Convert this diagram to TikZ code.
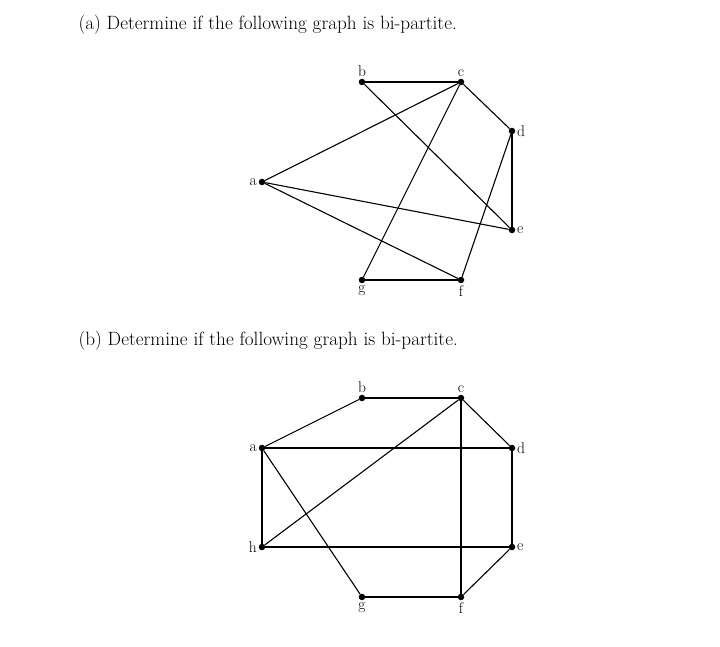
\documentclass[tikz,border=0pt]{standalone}
\begin{document}
\begin{tikzpicture}[x=1pt,y=-1pt,
  v/.style={circle,fill=black,inner sep=0pt,minimum size=6.5pt},
  lab/.style={font=\fontsize{15.5}{17}\selectfont,inner sep=1.5pt},
  e/.style={line width=1.1pt}]
\useasboundingbox (0,0) rectangle (720,647);
\node[anchor=west,font=\fontsize{19.2}{22}\selectfont] (ta) at (75,25) {(a) Determine if the following graph is bi-partite.};
\node[anchor=west,font=\fontsize{19.2}{22}\selectfont] (tb) at (75,341) {(b) Determine if the following graph is bi-partite.};
% graph a
\node[v,label={[lab]above:b}] (b) at (362,82) {};
\node[v,label={[lab]above:c}] (c) at (461,82) {};
\node[v,label={[lab]right:d}] (d) at (512,131) {};
\node[v,label={[lab]left:a}] (a) at (262,182) {};
\node[v,label={[lab]right:e}] (e) at (512,230) {};
\node[v,label={[lab]below:g}] (g) at (362,280) {};
\node[v,label={[lab]below:f}] (f) at (461,280) {};
\foreach \s/\t in {b/c,b/e,c/a,c/d,c/g,d/e,d/f,a/e,a/f,g/f}
  \draw[e] (\s) -- (\t);
% graph b
\node[v,label={[lab]above:b}] (b2) at (362,398) {};
\node[v,label={[lab]above:c}] (c2) at (461,398) {};
\node[v,label={[lab]left:a}] (a2) at (262,448) {};
\node[v,label={[lab]right:d}] (d2) at (512,448) {};
\node[v,label={[lab]left:h}] (h2) at (262,547) {};
\node[v,label={[lab]right:e}] (e2) at (512,547) {};
\node[v,label={[lab]below:g}] (g2) at (362,597) {};
\node[v,label={[lab]below:f}] (f2) at (461,597) {};
\foreach \s/\t in {b2/c2,a2/b2,c2/d2,c2/h2,c2/f2,a2/d2,a2/h2,a2/g2,h2/e2,d2/e2,e2/f2,g2/f2}
  \draw[e] (\s) -- (\t);
\end{tikzpicture}
\end{document}
